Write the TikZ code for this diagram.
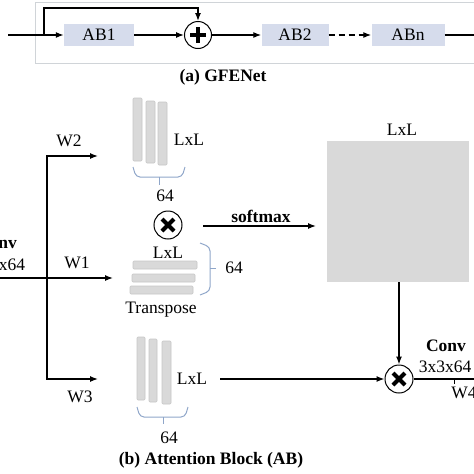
\documentclass[tikz,border=0pt]{standalone}
\usepackage{fontspec}
\setmainfont{Liberation Serif}
\usetikzlibrary{arrows.meta,calc}
\definecolor{abblue}{HTML}{D6DCEC}
\definecolor{bargray}{HTML}{D9D9D9}
\definecolor{barline}{HTML}{C6C6C6}
\definecolor{bracecol}{HTML}{8FA6C9}
\definecolor{framegray}{HTML}{D0D4D8}
\begin{document}
\begin{tikzpicture}[x=1pt,y=-1pt,
 every node/.style={font=\fontsize{17.5}{20}\selectfont, inner sep=0pt},
 abbox/.style={fill=abblue, minimum height=22pt},
 ln/.style={line width=1.3pt, draw=black},
 arr/.style={ln, -{Latex[length=8pt,width=6pt]}},
 bar/.style={fill=bargray, draw=barline, line width=0.6pt, rounded corners=1pt},
 brc/.style={draw=bracecol, line width=1pt, rounded corners=4pt},
 opnode/.style={circle, draw, line width=1pt, minimum size=28pt},
 bold/.style={font=\bfseries\fontsize{17.5}{20}\selectfont}]
\useasboundingbox (0,0) rectangle (474,474);
% ---------- (a) GFENet ----------
\draw[framegray, line width=0.8pt] (480,2) -- (35,2) -- (35,63) -- (480,63);
\node[abbox, minimum width=70pt] (ab1) at (99,35) {AB1};
\node[opnode, minimum size=27pt] (plus) at (198,35) {};
\draw[line width=4pt] ($(plus)+(-8,0)$) -- ($(plus)+(8,0)$);
\draw[line width=4pt] ($(plus)+(0,-8)$) -- ($(plus)+(0,8)$);
\node[abbox, minimum width=67pt] (ab2) at (295,35) {AB2};
\node[abbox, minimum width=73pt] (abn) at (408,35) {ABn};
\coordinate (in) at (8,35);
\coordinate (br) at (44,35);
\coordinate (out) at (480,35);
\draw[ln] (in) -- (br);
\draw[arr] (br) -- (ab1);
\draw[arr] (br) |- ++(0,-27) -| (plus.north);
\draw[arr] (ab1) -- (plus);
\draw[arr] (plus) -- (ab2);
\draw[arr, dash pattern=on 6pt off 4pt] (ab2) -- (abn);
\draw[ln] (abn) -- (out);
\node[bold] (capA) at (223,77) {(a) GFENet};
% ---------- (b) Attention Block ----------
\node[bold] (conv1) at (-3,243) {Conv};
\node (conv1s) at (-1,265) {3x3x64};
\coordinate (inb) at (-10,278);
\coordinate (vx) at (47,278);
\coordinate (w1end) at (113,278);
\coordinate (w2end) at (98,156);
\coordinate (w3end) at (98,379);
\draw[ln] (inb) -- (vx);
\draw[arr] (vx) -- (w1end);
\draw[arr] (vx) |- (w2end);
\draw[arr] (vx) |- (w3end);
\node (lw2) at (69,141) {W2};
\node (lw1) at (77,263) {W1};
\node (lw3) at (80,397) {W3};
% W2 bars
\draw[bar] (133,98) rectangle (142,161);
\draw[bar] (146,101) rectangle (155,163);
\draw[bar] (158,102) rectangle (167,165);
\node (l2) at (189,140) {LxL};
\draw[brc] (133,167) -- (136,177) -- (182,177) -- (185,167);
\draw[bracecol, line width=1pt] (159,177) -- (159,185);
\node (n2) at (165,196) {64};
% multiply 1
\node[opnode] (mult1) at (168,225) {};
\draw[line width=4pt] ($(mult1)+(-6,-6)$) -- ($(mult1)+(6,6)$);
\draw[line width=4pt] ($(mult1)+(-6,6)$) -- ($(mult1)+(6,-6)$);
\coordinate (smstart) at (203,226);
\coordinate (smend) at (316,226);
\draw[arr] (smstart) -- (smend);
\node[bold] (softmax) at (261,216) {softmax};
% W1 bars
\draw[bar] (133,261) rectangle (197,269);
\draw[bar] (132,274) rectangle (195,282);
\draw[bar] (130,286) rectangle (193,294);
\node (l1) at (168,253) {LxL};
\draw[brc] (200,243) -- (210,247) -- (210,291) -- (200,295);
\draw[bracecol, line width=1pt] (210,268) -- (216,268);
\node (n1) at (234,268) {64};
\node (tr) at (161,310) {Transpose};
% W3 bars
\draw[bar] (137,337) rectangle (145,400);
\draw[bar] (149,339) rectangle (157,402);
\draw[bar] (162,341) rectangle (171,404);
\node (l3) at (192,379) {LxL};
\draw[brc] (137,407) -- (140,417) -- (185,417) -- (188,407);
\draw[bracecol, line width=1pt] (163,417) -- (163,424);
\node (n3) at (169,438) {64};
\node[bold] (capB) at (211,460) {(b) Attention Block (AB)};
% attention map
\node[fill=bargray, minimum width=142pt, minimum height=141pt] (att) at (398,211.5) {};
\node (latt) at (402,130) {LxL};
\node[opnode] (mult2) at (399,379) {};
\draw[line width=4pt] ($(mult2)+(-6,-6)$) -- ($(mult2)+(6,6)$);
\draw[line width=4pt] ($(mult2)+(-6,6)$) -- ($(mult2)+(6,-6)$);
\draw[arr] (att.south -| mult2) -- (mult2.north);
\coordinate (w3l) at (220,379);
\draw[arr] (w3l) -- (mult2.west);
\coordinate (out2) at (480,379);
\draw[ln] (mult2.east) -- (out2);
\node[bold] (conv2) at (446,346) {Conv};
\node (conv2s) at (445,367) {3x3x64};
\coordinate (tk) at (454,379);
\draw[line width=0.6pt] (tk) -- ++(0,5);
\node (lw4) at (464,393) {W4};
\end{tikzpicture}
\end{document}
